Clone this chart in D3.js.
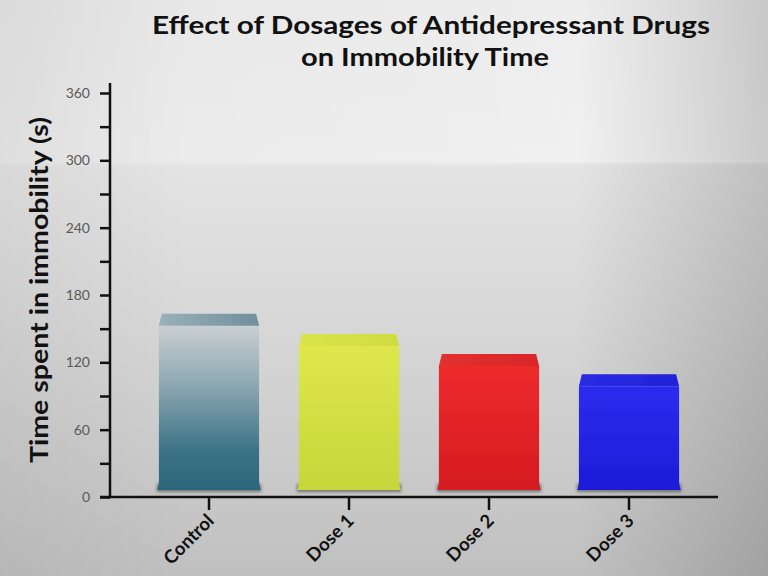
<!DOCTYPE html>
<html>
<head>
<meta charset="utf-8">
<script src="https://cdn.jsdelivr.net/npm/d3@7"></script>
<style>
  html, body { margin: 0; padding: 0; background: #ddd; }
  svg { display: block; }
</style>
</head>
<body>
<svg id="chart" width="768" height="576"></svg>
<script>
// ---- data ----
const categories = ["Control", "Dose 1", "Dose 2", "Dose 3"];
const values = [158, 140, 122, 104];
const yTickValues = [0, 30, 60, 90, 120, 150, 180, 210, 240, 270, 300, 330, 360];
const yLabelValues = [0, 60, 120, 180, 240, 300, 360];
const titleLines = ["Effect of Dosages of Antidepressant Drugs", "on Immobility Time"];
const yTitle = "Time spent in immobility (s)";

// ---- setup ----
const W = 768, H = 576;
const svg = d3.select("#chart");
const defs = svg.append("defs");

function grad(id, x2, y2, stops) {
  const g = defs.append("linearGradient").attr("id", id).attr("x1", 0).attr("y1", 0).attr("x2", x2).attr("y2", y2);
  stops.forEach(s => g.append("stop").attr("offset", s[0]).attr("stop-color", s[1]).attr("stop-opacity", s[2] === undefined ? 1 : s[2]));
}
grad("bgV", 0, 1, [["0%", "#e6e6e6"], ["28%", "#eaeaea"], ["29%", "#e4e4e4"], ["55%", "#d8d8d8"], ["100%", "#c0c0c0"]]);
grad("bgTop", 1, 0, [["0%", "#fff", 0], ["60%", "#fff", 0.22], ["90%", "#fff", 0.4], ["100%", "#fff", 0.3]]);
grad("bgSide", 1, 0, [["0%", "#000", 0.05], ["25%", "#000", 0], ["75%", "#000", 0], ["100%", "#000", 0.16]]);

// bar gradients
const barStyles = [
  { front: [["0%", "#c9cfd2"], ["35%", "#8fa9b3"], ["75%", "#3d7487"], ["100%", "#2b657a"]], top: ["#9bb0b8", "#6e8f9c"] },
  { front: [["0%", "#dfe74c"], ["100%", "#c6d63a"]], top: ["#dbe34a", "#cfdc3f"] },
  { front: [["0%", "#ef2a2c"], ["100%", "#d41b20"]], top: ["#e3302f", "#d92629"] },
  { front: [["0%", "#2c2cf0"], ["100%", "#1c1cd8"]], top: ["#2a2ae2", "#2222d6"] }
];
barStyles.forEach((s, i) => {
  grad("front" + i, 0, 1, s.front);
  grad("top" + i, 1, 0, [["0%", s.top[0]], ["100%", s.top[1]]]);
});

const blur = defs.append("filter").attr("id", "blur").attr("x", "-20%").attr("y", "-50%").attr("width", "140%").attr("height", "200%");
blur.append("feGaussianBlur").attr("stdDeviation", 1.6);
const soft = defs.append("filter").attr("id", "soft");
soft.append("feGaussianBlur").attr("stdDeviation", 0.6);

svg.append("rect").attr("x", 0).attr("y", 0).attr("width", W).attr("height", H).attr("fill", "url(#bgV)");
svg.append("rect").attr("x", 0).attr("y", 0).attr("width", W).attr("height", 163).attr("fill", "url(#bgTop)");
svg.append("rect").attr("x", 0).attr("y", 0).attr("width", W).attr("height", H).attr("fill", "url(#bgSide)");

// ---- scales ----
const y = d3.scaleLinear().domain([0, 360]).range([497, 93]);
const x = d3.scaleBand().domain(categories).range([139, 699]).paddingInner(0.27).paddingOuter(0.135);

// ---- bars ----
const bw = x.bandwidth();
const depth = 6; // half height of top face
const base = y(0) - 7;
const bars = svg.append("g").selectAll("g").data(categories).join("g");

// shadow at bottom
bars.append("rect")
  .attr("x", d => x(d) - 1)
  .attr("y", base - 6)
  .attr("width", bw + 2)
  .attr("height", 8)
  .attr("fill", "#333").attr("opacity", 0.55)
  .attr("filter", "url(#blur)");

// front face (slightly flared at the bottom)
bars.append("path")
  .attr("d", (d, i) => {
    const x0 = x(d), x1 = x(d) + bw, yt = y(values[i]) + depth;
    return `M${x0 + 1},${yt} L${x1 - 1},${yt} L${x1 - 1},${base - 12} Q${x1 - 1},${base - 2} ${x1 + 1},${base} L${x0 - 1},${base} Q${x0 + 1},${base - 2} ${x0 + 1},${base - 12} Z`;
  })
  .attr("fill", (d, i) => `url(#front${i})`)
  .attr("filter", "url(#soft)");

// top face
bars.append("path")
  .attr("d", (d, i) => {
    const x0 = x(d), x1 = x(d) + bw, yv = y(values[i]);
    return `M${x0 + 4},${yv - depth} L${x1 - 4},${yv - depth} L${x1 - 1},${yv + depth} L${x0 + 1},${yv + depth} Z`;
  })
  .attr("fill", (d, i) => `url(#top${i})`)
  .attr("filter", "url(#soft)");

// ---- axes ----
const yAxis = d3.axisLeft(y).tickValues(yTickValues).tickSize(10).tickPadding(10)
  .tickFormat(v => yLabelValues.includes(v) ? d3.format("d")(v) : "");
const gy = svg.append("g").attr("transform", "translate(110,0)").call(yAxis);
gy.select(".domain").remove();
gy.selectAll(".tick line").attr("stroke", "#111").attr("stroke-width", 2.5);
gy.selectAll(".tick text").attr("fill", "#5a5a5a").attr("font-family", "Lato, 'Open Sans', sans-serif")
  .attr("font-size", 14).attr("font-weight", 400);

const xAxis = d3.axisBottom(x).tickSize(13).tickFormat("");
const gx = svg.append("g").attr("transform", `translate(0,${y(0)})`).call(xAxis);
gx.select(".domain").remove();
gx.selectAll(".tick line").attr("stroke", "#111").attr("stroke-width", 2.5);
gx.selectAll(".tick").append("text")
  .attr("transform", "translate(6,25) rotate(-45)")
  .attr("text-anchor", "end")
  .attr("fill", "#111")
  .attr("font-family", "Lato, 'Open Sans', sans-serif")
  .attr("font-weight", 700)
  .attr("font-size", 18.5)
  .text(d => d);

// axis lines
svg.append("line").attr("x1", 110).attr("x2", 110).attr("y1", 83).attr("y2", y(0) + 1.25)
  .attr("stroke", "#111").attr("stroke-width", 2.5);
svg.append("line").attr("x1", 100).attr("x2", 718).attr("y1", y(0)).attr("y2", y(0))
  .attr("stroke", "#111").attr("stroke-width", 2.5);

// ---- titles ----
const tt = svg.append("text").attr("text-anchor", "middle")
  .attr("font-family", "Lato, 'Open Sans', sans-serif").attr("font-weight", 700)
  .attr("font-size", 25).attr("fill", "#111");
tt.append("tspan").attr("x", 431).attr("y", 34).attr("textLength", 558).attr("lengthAdjust", "spacingAndGlyphs").text(titleLines[0]);
tt.append("tspan").attr("x", 425).attr("y", 66).attr("textLength", 248).attr("lengthAdjust", "spacingAndGlyphs").text(titleLines[1]);

svg.append("text")
  .attr("transform", "translate(48,290) rotate(-90)")
  .attr("text-anchor", "middle")
  .attr("font-family", "Lato, 'Open Sans', sans-serif").attr("font-weight", 700)
  .attr("font-size", 25).attr("fill", "#111")
  .attr("textLength", 346).attr("lengthAdjust", "spacingAndGlyphs")
  .text(yTitle);
</script>
</body>
</html>
